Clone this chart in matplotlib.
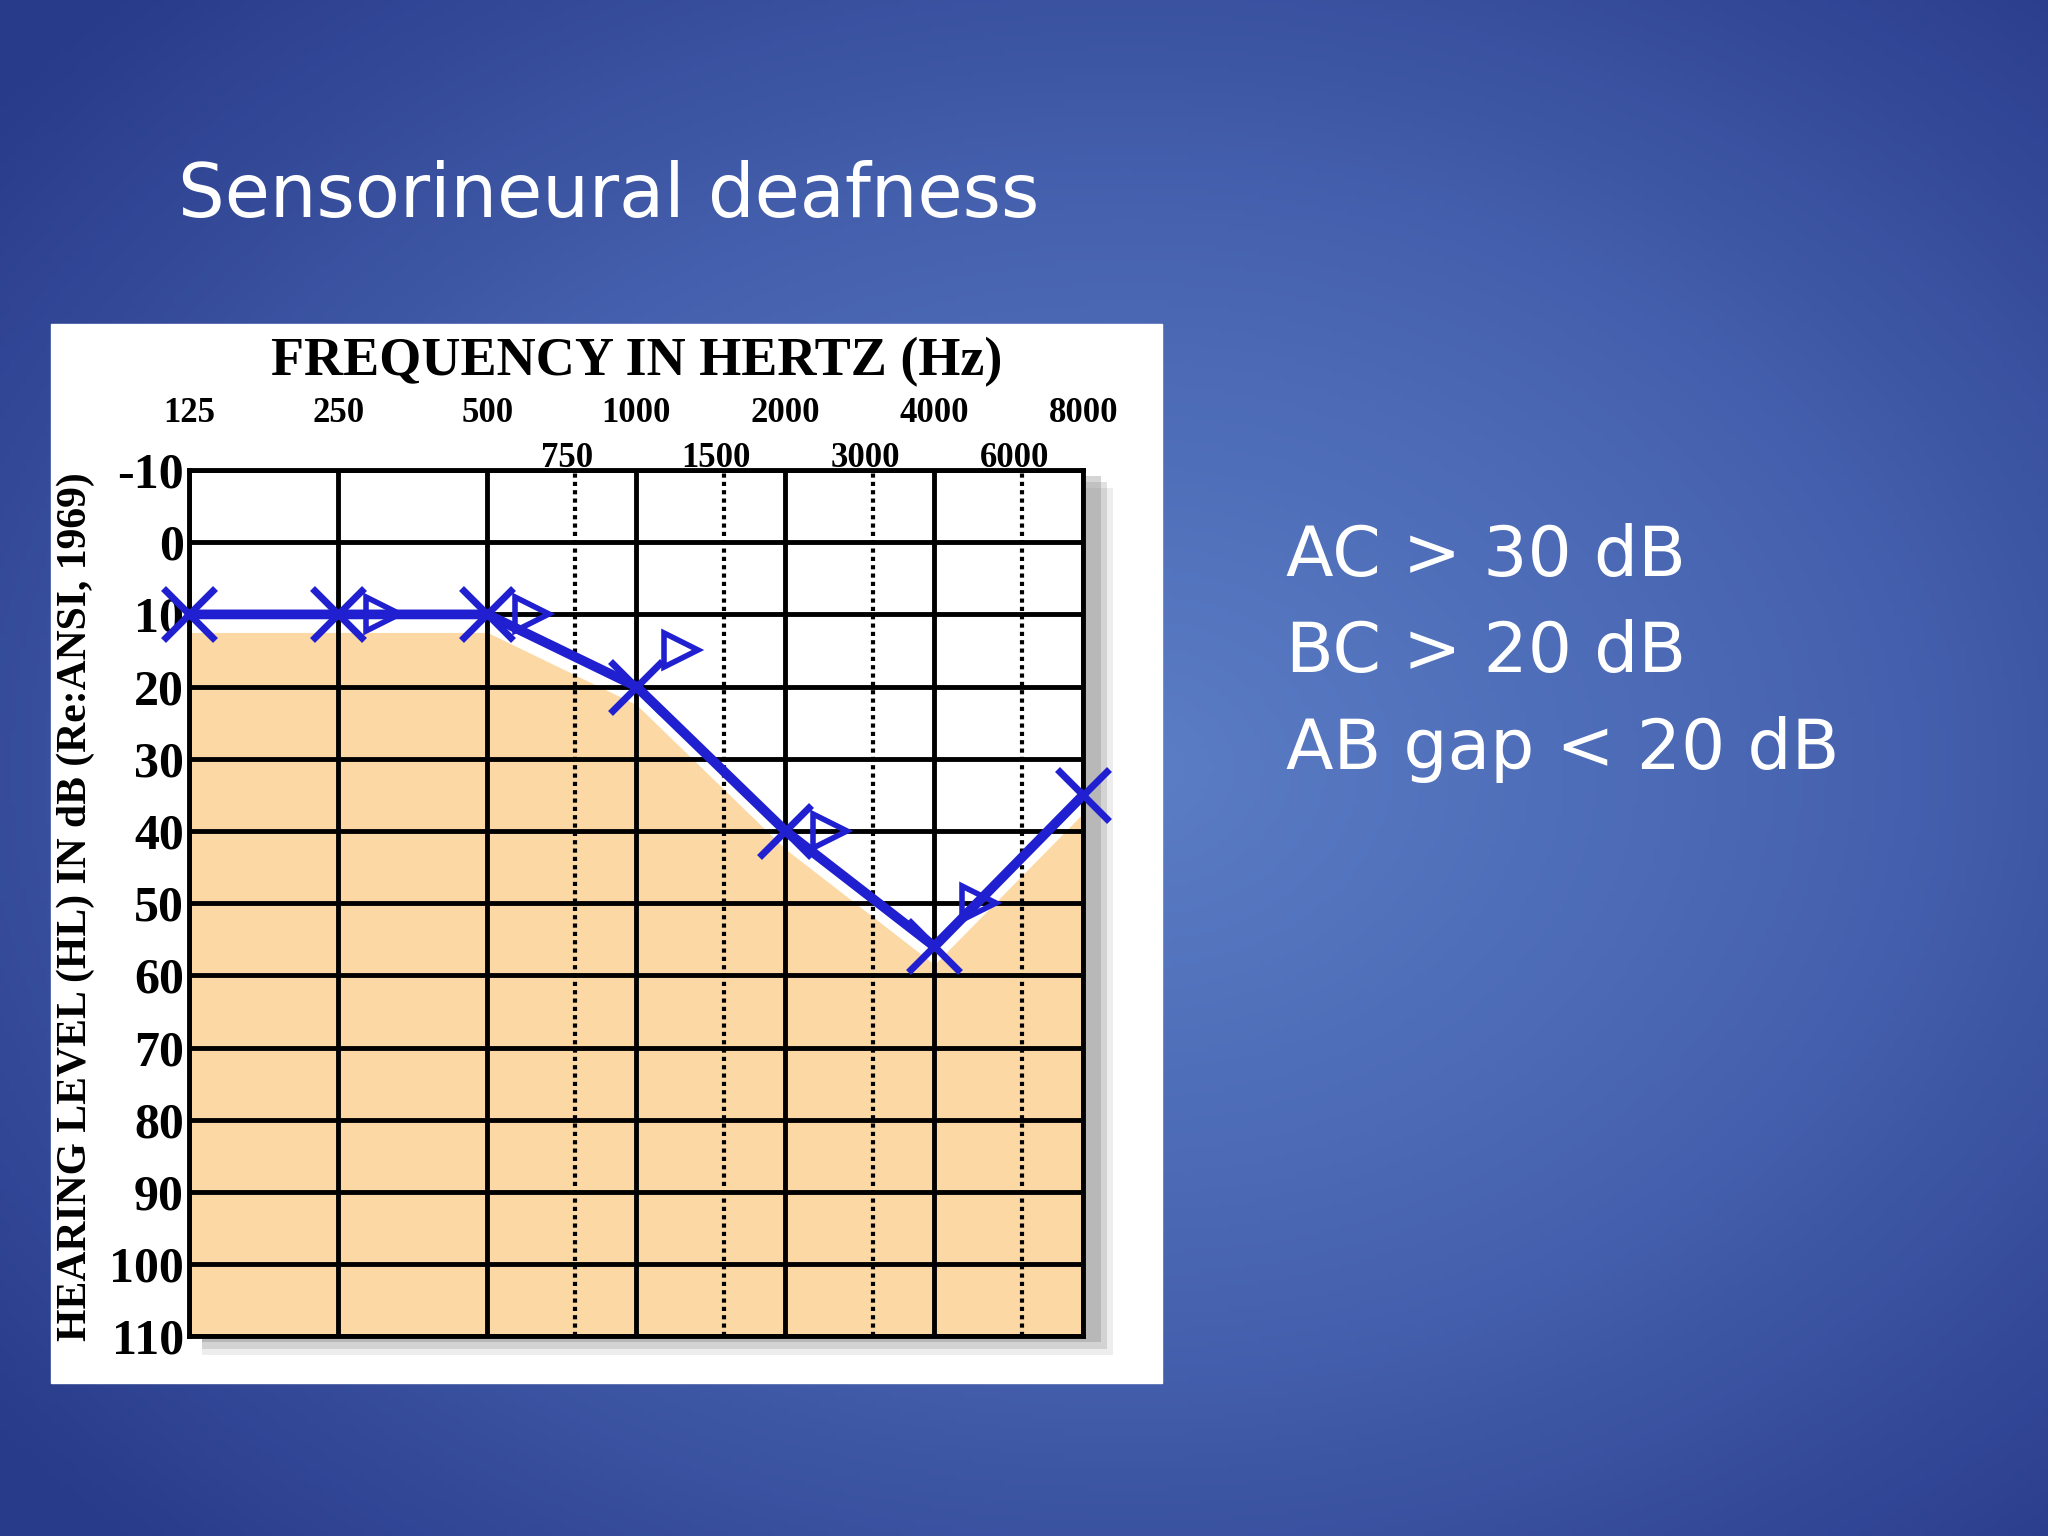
import numpy as np
import matplotlib
matplotlib.use("Agg")
import matplotlib.pyplot as plt
from matplotlib.colors import LinearSegmentedColormap

freqs_main = [125, 250, 500, 1000, 2000, 4000, 8000]
freqs_half = [750, 1500, 3000, 6000]
db_ticks = [-10, 0, 10, 20, 30, 40, 50, 60, 70, 80, 90, 100, 110]
ac_freq = [125, 250, 500, 1000, 2000, 4000, 8000]
ac_db = [10, 10, 10, 20, 40, 56, 35]
bc_freq = [250, 500, 1000, 2000, 4000]
bc_db = [10, 10, 15, 40, 50]
title = "Sensorineural deafness"
notes = ["AC > 30 dB", "BC > 20 dB", "AB gap < 20 dB"]

def pos(f):
    return np.log2(np.asarray(f, dtype=float) / 125.0)

fig = plt.figure(figsize=(20.48, 15.36), dpi=100)

bg = fig.add_axes([0, 0, 1, 1])
yy, xx = np.mgrid[0:1:300j, 0:1:400j]
r = np.sqrt(((xx - 0.55) / 0.75) ** 2 + ((yy - 0.5) / 0.75) ** 2)
cmap = LinearSegmentedColormap.from_list("bgc", ["#5b7ec6", "#4763b0", "#283a8a"])
bg.imshow(r, cmap=cmap, aspect="auto", extent=[0, 1, 0, 1], vmin=0, vmax=0.95)
bg.set_axis_off()
bg.set_xlim(0, 1); bg.set_ylim(0, 1)

bg.add_patch(plt.Rectangle((0.0249, 0.0997), 0.5427, 0.6893, color="white", zorder=2))
for i, a in enumerate([0.15, 0.25, 0.35]):
    d = 0.004 * (3 - i)
    bg.add_patch(plt.Rectangle((0.0925 + 0.006, 0.130 - d), 0.4365 + d * 0.7, 0.564,
                               color="#888888", alpha=a, zorder=3, lw=0))

fig.text(0.087, 0.872, title, color="white", fontsize=53, va="center", ha="left",
         family="DejaVu Sans")
for i, t in enumerate(notes):
    fig.text(0.628, 0.638 - i * 0.063, t, color="white", fontsize=50, va="center", ha="left",
             family="DejaVu Sans")

ax = fig.add_axes([0.0925, 0.130, 0.4365, 0.564])
ax.set_xlim(0, 6)
ax.set_ylim(110, -10)
ax.set_facecolor("white")
ax.set_zorder(5)

xa = pos(ac_freq)
ax.fill_between(xa, np.array(ac_db) + 2.5, 110, color="#fcd8a4", zorder=1, lw=0)

for f in freqs_main:
    ax.axvline(pos(f), color="black", lw=3.5, zorder=2)
for f in freqs_half:
    ax.axvline(pos(f), color="black", lw=3, ls=(0, (1, 1)), zorder=2)
for d in db_ticks:
    ax.axhline(d, color="black", lw=3.5, zorder=2)

ax.plot(xa, ac_db, color="#2020d0", lw=7, zorder=4)
ax.plot(xa, ac_db, ls="none", marker="x", ms=38, mew=5, color="#2020d0", zorder=5, clip_on=False)
ax.plot(pos(bc_freq) + 0.3, bc_db, ls="none", marker=">", ms=24, mew=4, mfc="none",
        mec="#2020d0", zorder=5)

for s in ax.spines.values():
    s.set_linewidth(3.5)
ax.set_yticks(db_ticks)
ax.set_yticklabels([str(d) for d in db_ticks], fontsize=36, fontweight="bold",
                   family="Liberation Serif")
ax.tick_params(axis="y", length=0, pad=4)
ax.set_xticks([])
for f in freqs_main:
    ax.text(pos(f), -17.8, str(f), ha="center", va="center", fontsize=25,
            fontweight="bold", family="Liberation Serif")
for f in freqs_half:
    ax.text(pos(f) - 0.05, -11.6, str(f), ha="center", va="center", fontsize=25,
            fontweight="bold", family="Liberation Serif")
ax.text(3.0, -25.0, "FREQUENCY IN HERTZ (Hz)", ha="center", va="center", fontsize=39,
        fontweight="bold", family="Liberation Serif")
fig.text(0.037, 0.41, "HEARING LEVEL (HL) IN dB (Re:ANSI, 1969)", rotation=90,
         ha="center", va="center", fontsize=30, fontweight="bold", family="Liberation Serif")

fig.savefig("out.png", dpi=100)
